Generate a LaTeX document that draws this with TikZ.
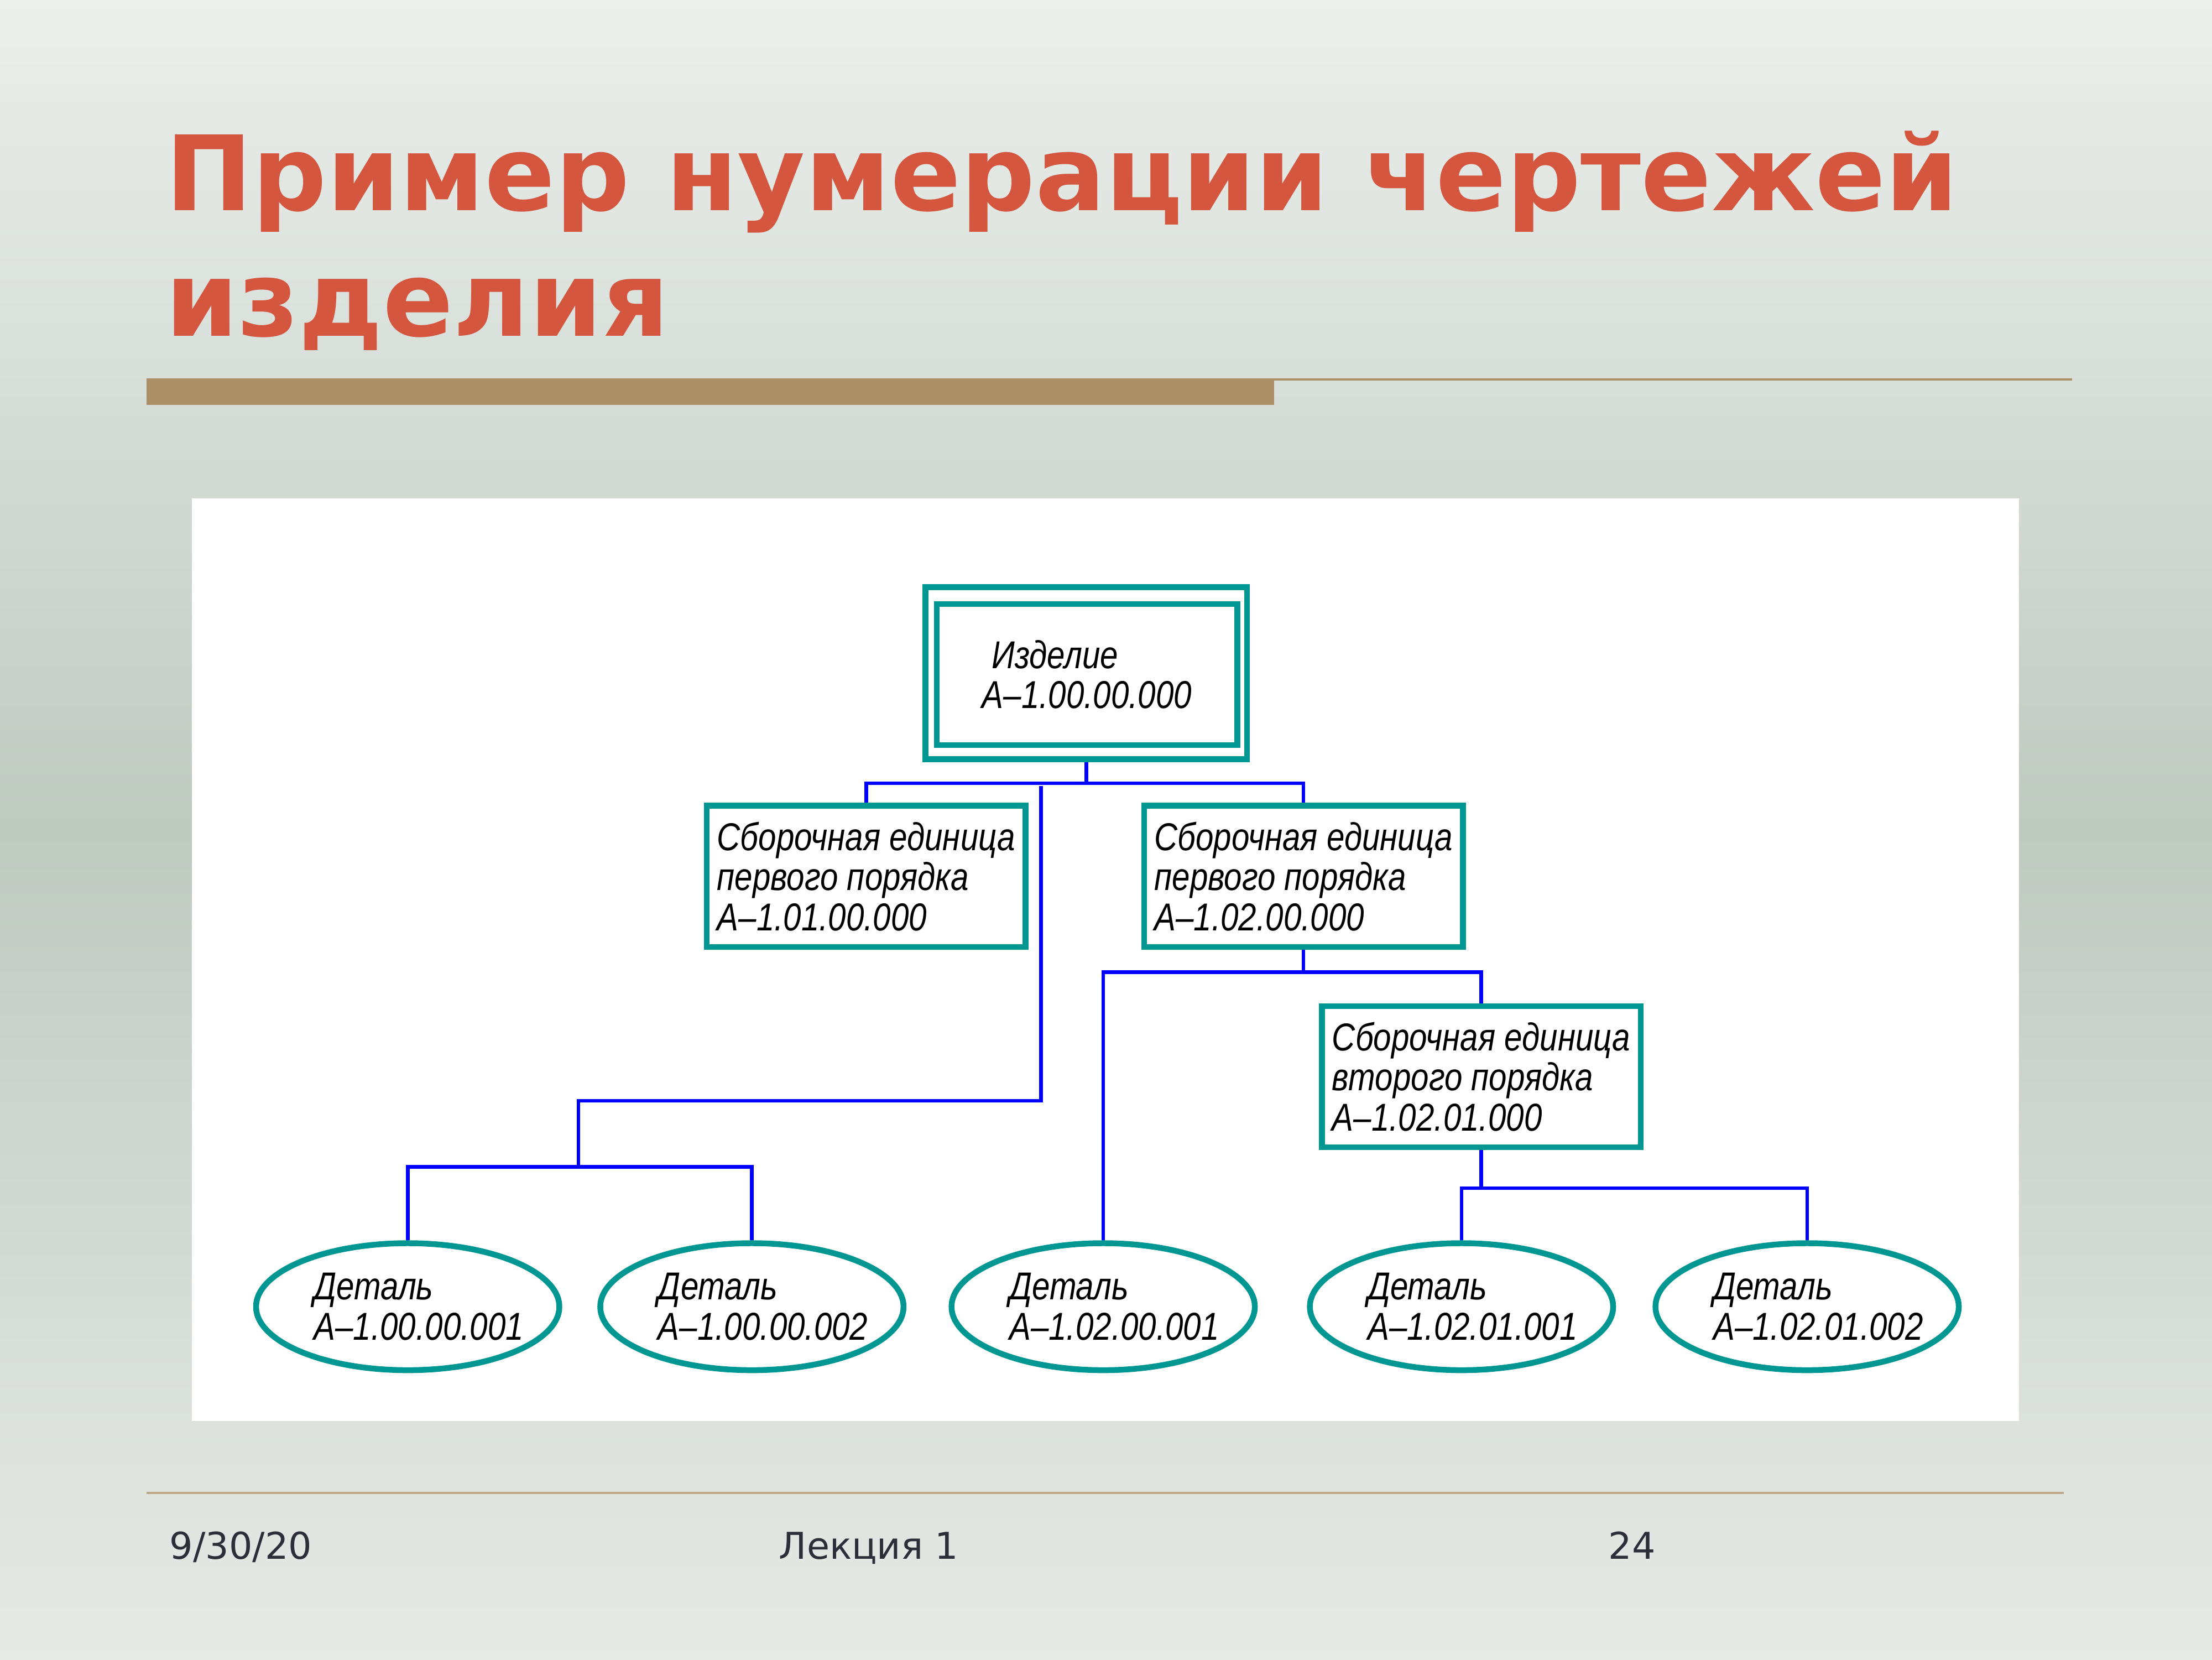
\documentclass[tikz,border=0pt]{standalone}
\usepackage{fontspec}
\setmainfont{DejaVu Sans}
\newfontfamily\gostfont[FakeStretch=0.83]{Liberation Sans}
\usetikzlibrary{shapes.geometric}

\definecolor{titlered}{RGB}{212,86,62}
\definecolor{barbrown}{RGB}{173,143,103}
\definecolor{rulebrown}{RGB}{190,168,138}
\definecolor{frameteal}{RGB}{0,150,146}
\definecolor{footgrey}{RGB}{46,46,56}
\definecolor{bgtop}{RGB}{236,239,236}
\definecolor{bgmid}{RGB}{191,202,193}
\definecolor{bgbot}{RGB}{231,234,231}

\newcommand{\partlabel}[2]{\hspace*{0.2cm}#1\hspace*{-0.2cm}\\\hspace*{0.2cm}#2\hspace*{-0.2cm}}

\begin{document}
\begin{tikzpicture}[
            x=0.02551cm, y=-0.02551cm,
            drawtext/.style={font=\gostfont\itshape\fontsize{20}{20.6}\selectfont, align=left},
            unitbox/.style={rectangle, draw=frameteal, line width=0.105cm, fill=white,
                minimum width=5.765cm, minimum height=2.551cm, inner sep=0pt, drawtext},
            detail/.style={ellipse, draw=frameteal, line width=0.105cm,
                minimum width=5.485cm, minimum height=2.296cm, inner sep=0pt, drawtext},
            link/.style={draw=blue, line width=0.065cm}
        ]
            % slide
            \fill[top color=bgtop, bottom color=bgbot, middle color=bgmid] (0,0) rectangle (1568,1176);
            \useasboundingbox (0,0) rectangle (1568,1176);
            \node[anchor=base west, inner sep=0pt, text=titlered, font=\bfseries\fontsize{53.5}{64}\selectfont] (title) at (117,149) {Пример нумерации чертежей};
            \node[anchor=base west, inner sep=0pt, text=titlered, font=\bfseries\fontsize{53.5}{64}\selectfont] (titlesub) at (117,238) {изделия};
            \fill[barbrown] (104,268) rectangle (903,287);
            \draw[barbrown, line width=0.04cm] (903,268.8) -- (1469,268.8);
            \fill[white] (136,353) rectangle (1431,1007);

            % tree
            \node[rectangle, draw=frameteal, line width=0.105cm, minimum width=5.816cm, minimum height=3.112cm] (prod) at (770,477) {};
            \node[unitbox, minimum width=5.434cm] (prodin) at (770.5,478) {\hspace*{0.25em}Изделие\\А–1.00.00.000};
            \node[unitbox] (u1) at (614,621) {Сборочная единица\\первого порядка\\А–1.01.00.000};
            \node[unitbox] (u2) at (924,621) {Сборочная единица\\первого порядка\\А–1.02.00.000};
            \node[unitbox] (s1) at (1050,763) {Сборочная единица\\второго порядка\\А–1.02.01.000};

            \node[detail] (e1) at (289,926) {\partlabel{Деталь}{А–1.00.00.001}};
            \node[detail] (e2) at (533,926) {\partlabel{Деталь}{А–1.00.00.002}};
            \node[detail] (e3) at (782,926) {\partlabel{Деталь}{А–1.02.00.001}};
            \node[detail] (e4) at (1036,926) {\partlabel{Деталь}{А–1.02.01.001}};
            \node[detail] (e5) at (1281,926) {\partlabel{Деталь}{А–1.02.01.002}};

            \coordinate (b1) at (770,555);
            \coordinate (b2) at (738,557);
            \coordinate (b3) at (410,780);
            \coordinate (b4) at (410,827);
            \coordinate (b5) at (924,689);
            \coordinate (b6) at (1050,842);

            \draw[link] (prod.south) -- (b1);
            \draw[link] (u1.north) |- (b1) -| (u2.north);
            \draw[link] (b2) |- (b3) -- (b4);
            \draw[link] (e1.north) |- (b4) -| (e2.north);
            \draw[link] (u2.south) -- (b5);
            \draw[link] (e3.north) |- (b5) -| (s1.north);
            \draw[link] (s1.south) -- (b6);
            \draw[link] (e4.north) |- (b6) -| (e5.north);

            % footer
            \draw[rulebrown, line width=0.04cm] (104,1058) -- (1463,1058);
            \node[anchor=base west, inner sep=0pt, text=footgrey, font=\fontsize{19}{23}\selectfont] (date) at (120,1105) {9/30/20};
            \node[anchor=base west, inner sep=0pt, text=footgrey, font=\fontsize{19}{23}\selectfont] (lecture) at (552,1105) {Лекция 1};
            \node[anchor=base west, inner sep=0pt, text=footgrey, font=\fontsize{19}{23}\selectfont] (pageno) at (1140,1105) {24};
        \end{tikzpicture}
\end{document}
